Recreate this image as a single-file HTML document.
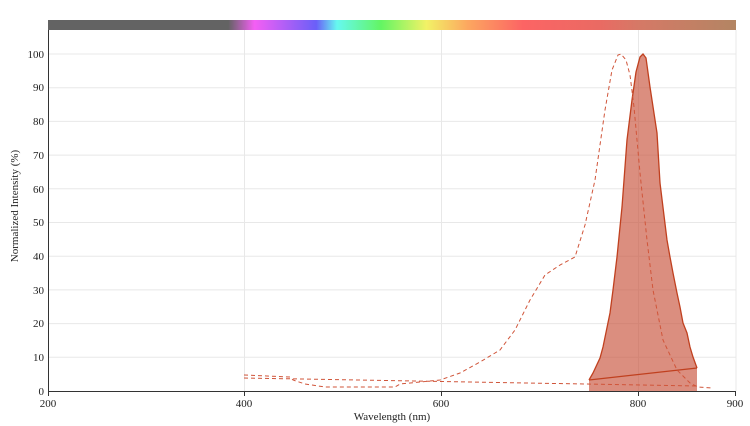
<!DOCTYPE html>
<html><head><meta charset="utf-8"><style>
body{margin:0;background:#fff;}
svg{display:block;font-family:"Liberation Serif",serif;}
</style></head><body>
<svg width="750" height="426" viewBox="0 0 750 426">
<defs>
<linearGradient id="sp" x1="48" x2="736" gradientUnits="userSpaceOnUse">
<stop offset="0" stop-color="#636363"/>
<stop offset="0.262" stop-color="#636363"/>
<stop offset="0.300" stop-color="#f45ff4"/>
<stop offset="0.39" stop-color="#6a5ff8"/>
<stop offset="0.42" stop-color="#66f8f0"/>
<stop offset="0.484" stop-color="#63f563"/>
<stop offset="0.55" stop-color="#f2f266"/>
<stop offset="0.61" stop-color="#fca760"/>
<stop offset="0.69" stop-color="#fc6464"/>
<stop offset="0.80" stop-color="#ea6a63"/>
<stop offset="0.86" stop-color="#d57966"/>
<stop offset="1" stop-color="#b38563"/>
</linearGradient>
</defs>
<rect x="48" y="20" width="688" height="10" fill="url(#sp)"/>
<g stroke="#e8e8e8" stroke-width="1">
<line x1="244.5" y1="30" x2="244.5" y2="391"/>
<line x1="441.5" y1="30" x2="441.5" y2="391"/>
<line x1="638.5" y1="30" x2="638.5" y2="391"/>
<line x1="736" y1="30" x2="736" y2="391"/>
<line x1="48" y1="357.3" x2="736" y2="357.3"/>
<line x1="48" y1="323.6" x2="736" y2="323.6"/>
<line x1="48" y1="289.9" x2="736" y2="289.9"/>
<line x1="48" y1="256.2" x2="736" y2="256.2"/>
<line x1="48" y1="222.5" x2="736" y2="222.5"/>
<line x1="48" y1="188.8" x2="736" y2="188.8"/>
<line x1="48" y1="155.1" x2="736" y2="155.1"/>
<line x1="48" y1="121.4" x2="736" y2="121.4"/>
<line x1="48" y1="87.7" x2="736" y2="87.7"/>
<line x1="48" y1="54" x2="736" y2="54"/>
</g>
<line x1="48.5" y1="30" x2="48.5" y2="391" stroke="#333"/>
<line x1="48" y1="391.5" x2="736" y2="391.5" stroke="#333"/>
<g stroke="#333"><line x1="48.5" y1="391" x2="48.5" y2="396"/><line x1="244.5" y1="391" x2="244.5" y2="396"/><line x1="441.5" y1="391" x2="441.5" y2="396"/><line x1="638.5" y1="391" x2="638.5" y2="396"/><line x1="735.5" y1="391" x2="735.5" y2="396"/></g>
<path d="M589,391 L589,380 L593,373 L600,358 L603,347 L610,313 L613,290 L617,257 L622,207 L627,140 L632,100 L636,72 L640,57 L643,54 L646,58 L650,87 L657,133 L660,183 L667,240 L670,257 L673,273 L677,293 L680,307 L683,323 L687,333 L690,347 L693,357 L697,368 L697,391 Z" fill="#c8523a" fill-opacity="0.65" stroke="none"/>
<path d="M589,380 L593,373 L600,358 L603,347 L610,313 L613,290 L617,257 L622,207 L627,140 L632,100 L636,72 L640,57 L643,54 L646,58 L650,87 L657,133 L660,183 L667,240 L670,257 L673,273 L677,293 L680,307 L683,323 L687,333 L690,347 L693,357 L697,368" fill="none" stroke="#c0401f" stroke-width="1.3"/>
<line x1="589" y1="380" x2="697" y2="368" stroke="#c0401f" stroke-width="1.3"/>
<g fill="none" stroke="#d0553a" stroke-width="1" stroke-dasharray="4,3">
<path d="M244,375 L290,377 L293,380 L305,384 L325,387 L395,387 L400,384 L420,382 L440,380 L460,373 L480,362 L500,350 L515,330 L530,300 L545,275 L560,265 L575,257 L585,225 L595,180 L605,110 L612,70 L618,55 L621,54 L626,60 L630,75 L634,107 L640,173 L647,240 L653,290 L663,340 L677,370 L690,383 L698,387 L712,388"/>
<path d="M244,378 L697,386"/>
</g>
<g font-size="11" fill="#222" text-anchor="end">
<text x="44" y="395">0</text><text x="44" y="361">10</text><text x="44" y="327">20</text><text x="44" y="294">30</text><text x="44" y="260">40</text><text x="44" y="226">50</text><text x="44" y="193">60</text><text x="44" y="159">70</text><text x="44" y="125">80</text><text x="44" y="91">90</text><text x="44" y="58">100</text>
</g>
<g font-size="11" fill="#222" text-anchor="middle">
<text x="48" y="407">200</text><text x="244" y="407">400</text><text x="441" y="407">600</text><text x="638" y="407">800</text><text x="735" y="407">900</text>
<text x="392" y="420">Wavelength (nm)</text>
<text transform="translate(18,206) rotate(-90)">Normalized Intensity (%)</text>
</g>
</svg>
</body></html>
